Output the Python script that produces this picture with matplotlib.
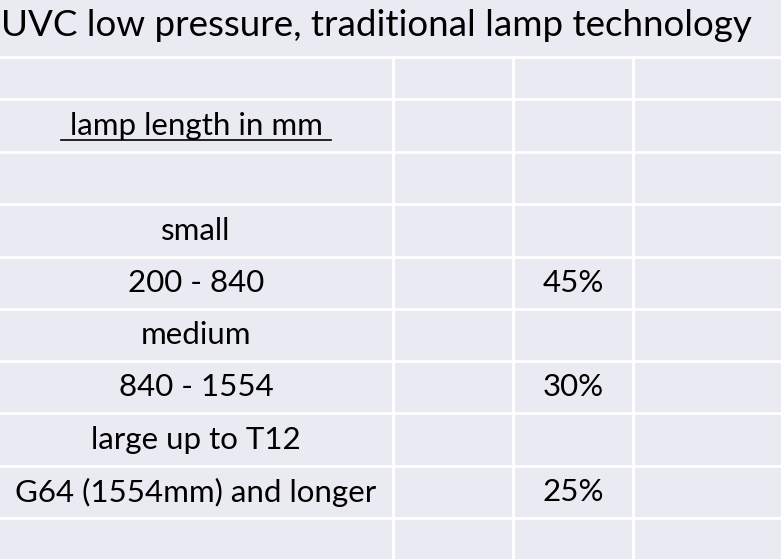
import matplotlib.pyplot as plt

title = "UVC low pressure, traditional lamp technology"
header = "lamp length in mm"
row_labels = ["", "small", "200 - 840", "medium", "840 - 1554",
              "large up to T12", "G64 (1554mm) and longer", ""]
shares = ["", "", "45%", "", "30%", "", "25%", ""]

col_edges = [0, 393, 513, 633, 781]
row_edges = [57, 99, 152, 204, 257, 309, 361, 413, 466, 518, 560]

fig = plt.figure(figsize=(7.81, 5.6), dpi=100)
fig.patch.set_facecolor("#EAEAF2")
ax = fig.add_axes([0, 0, 1, 1])
ax.set_xlim(0, 781)
ax.set_ylim(560, 0)
ax.axis("off")

for y in row_edges:
    ax.axhline(y, color="white", lw=2)
for x in col_edges[1:-1]:
    ax.plot([x, x], [row_edges[0], 560], color="white", lw=2)

font = "Lato"
ax.text(1, 26, title, fontsize=26.5, family=font, va="center", ha="left")

centers = [(row_edges[i] + row_edges[i + 1]) / 2 for i in range(len(row_edges) - 1)]
ax.text(196, centers[1], header, fontsize=22.5, family=font, ha="center", va="center")
ax.plot([61, 331], [centers[1] + 14, centers[1] + 14], color="black", lw=1.2)

for i, (lab, sh) in enumerate(zip(row_labels, shares)):
    yc = centers[i + 2]
    if lab:
        ax.text(196, yc, lab, fontsize=22.5, family=font, ha="center", va="center")
    if sh:
        ax.text(573, yc, sh, fontsize=22.5, family=font, ha="center", va="center")

fig.savefig("out.png", dpi=100, facecolor=fig.get_facecolor())
